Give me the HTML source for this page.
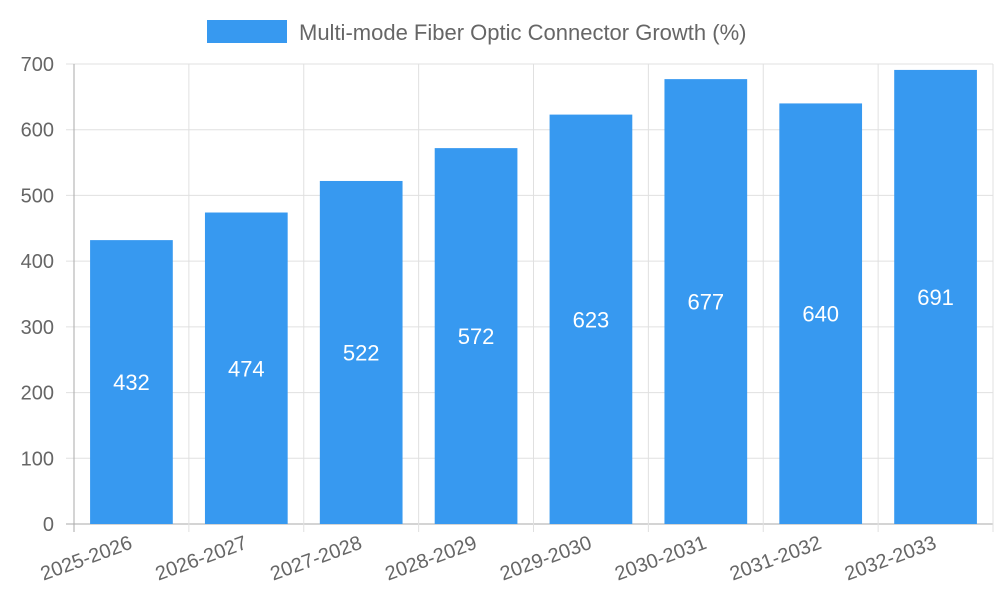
<!DOCTYPE html>
<html><head><meta charset="utf-8"><style>
body{margin:0;background:#fff;}
svg{display:block;font-family:"Liberation Sans",sans-serif;}
</style></head><body>
<svg id="chart" width="1000" height="600"></svg>
<script>
const categories=["2025-2026","2026-2027","2027-2028","2028-2029","2029-2030","2030-2031","2031-2032","2032-2033"];
const values=[432,474,522,572,623,677,640,691];
const yTicks=[0,100,200,300,400,500,600,700];
const seriesName="Multi-mode Fiber Optic Connector Growth (%)";

const NS="http://www.w3.org/2000/svg";
const svg=document.getElementById('chart');
const L=74,R=993,T=64,B=524,yMax=700;
const cw=(R-L)/categories.length;
const xC=i=>L+cw*(i+0.5);
const y=v=>B-(v/yMax)*(B-T);
function mk(tag,attrs,parent){const e=document.createElementNS(NS,tag);for(const k in attrs)e.setAttribute(k,attrs[k]);(parent||svg).appendChild(e);return e;}

const grid=mk('g',{});


yTicks.forEach(t=>{
  mk('line',{x1:66,x2:R,y1:y(t),y2:y(t),stroke:t===0?'#aaa':'#e0e0e0','stroke-width':1},grid);
  const tx=mk('text',{x:54,y:y(t)+7,'text-anchor':'end','font-size':20,fill:'#666'});
  tx.textContent=t;
  
  
});
for(let i=0;i<=categories.length;i++){
  const x=L+cw*i;
  mk('line',{x1:x,x2:x,y1:T,y2:532,stroke:i===0?'#aaa':'#e0e0e0','stroke-width':1},grid);
}
const bw=cw*0.72;
categories.forEach((c,i)=>{
  const r=mk('rect',{x:xC(i)-bw/2,y:y(values[i]),width:bw,height:B-y(values[i]),fill:'#3799f0'});
  
  
  const vl=mk('text',{x:xC(i),y:(y(values[i])+B)/2+8,'text-anchor':'middle','font-size':22,fill:'#fff'});
  vl.textContent=values[i];
  
  
  const xl=mk('text',{x:xC(i)+2,y:548,'text-anchor':'end','font-size':20,fill:'#666',transform:`rotate(-20 ${xC(i)+2} 548)`});
  xl.textContent=c;
  
  
});
const lg=mk('g',{});


mk('rect',{x:207,y:20,width:80,height:23,fill:'#3799f0'},lg);
const lt=mk('text',{x:299,y:40,'font-size':22,fill:'#666'},lg);
lt.textContent=seriesName;
</script>
</body></html>
